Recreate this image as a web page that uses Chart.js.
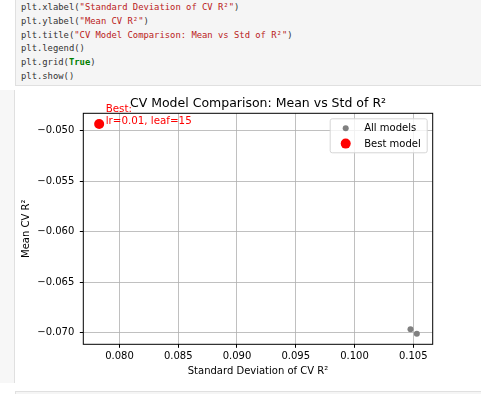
<!DOCTYPE html>
<html>
<head>
<meta charset="utf-8">
<script src="https://cdn.jsdelivr.net/npm/chart.js@4"></script>
<style>
body { margin:0; background:#fff; width:481px; height:394px; overflow:hidden; position:relative; }
.code { position:absolute; left:15px; top:-1px; width:465px; height:85px; background:#f5f5f5; border:1px solid #e0e0e0; border-right:none; }
.code pre { margin:0; padding:1px 0 0 5px; font-family:"DejaVu Sans Mono", monospace; font-size:8.85px; line-height:13.8px; color:#333; }
.s { color:#ba2121; }
.k { color:#008000; font-weight:bold; }
.strip { position:absolute; left:0; top:90px; width:14px; height:293px; background:#f7f7f7; border-right:1px solid #e0e0e0; }
.next { position:absolute; left:15px; top:391px; width:466px; height:10px; background:#f5f5f5; border-top:1px solid #e0e0e0; border-left:1px solid #e0e0e0; }
#chart { position:absolute; left:0; top:88px; }
</style>
</head>
<body>

<div class="code"><pre>plt.xlabel(<span class="s">"Standard Deviation of CV R²"</span>)
plt.ylabel(<span class="s">"Mean CV R²"</span>)
plt.title(<span class="s">"CV Model Comparison: Mean vs Std of R²"</span>)
plt.legend()
plt.grid(<span class="k">True</span>)
plt.show()</pre></div>

<div class="strip"></div>
<div class="next"></div>

<canvas id="chart" width="481" height="300"></canvas>

<script>

// data

const allStd = [0.07827, 0.10477, 0.10531];
const allMean = [-0.04934, -0.06966, -0.07010];

const bestStd = [0.07827];
const bestMean = [-0.04934];
const bestText = ["Best:", "lr=0.01, leaf=15"];

const xTicks = [0.080, 0.085, 0.090, 0.095, 0.100, 0.105];
const yTicks = [-0.070, -0.065, -0.060, -0.055, -0.050];

const titleText = "CV Model Comparison: Mean vs Std of R²";


const FONT = "DejaVu Sans";

function fmt(v){
  let s = Math.abs(v).toFixed(3);
  return v < 0 ? "\u2212" + s : s;
}

function toPoints(xs, ys){
  return xs.map((x, i) => ({x: x, y: ys[i]}));
}


// title, frame, annotation and legend box like matplotlib

const extras = {
  id: "extras",
  afterDraw(chart){
    const ctx = chart.ctx;
    const a = chart.chartArea;
    const xs = chart.scales.x, ys = chart.scales.y;

    ctx.save();

    // title centred over the axes
    ctx.fillStyle = "#000";
    ctx.font = "12.5px '" + FONT + "'";
    ctx.textAlign = "center";
    ctx.textBaseline = "alphabetic";
    ctx.fillText(titleText, (a.left + a.right) / 2, a.top - 6.5);

    ctx.strokeStyle = "#000";
    ctx.lineWidth = 1;
    ctx.strokeRect(a.left, a.top, a.right - a.left, a.bottom - a.top);

    // annotation next to best point
    let px = xs.getPixelForValue(bestStd[0]);
    let py = ys.getPixelForValue(bestMean[0]);
    ctx.fillStyle = "red";
    ctx.font = "10.3px '" + FONT + "'";
    ctx.textAlign = "left";
    ctx.fillText(bestText[0], px + 6.5, py - 12.5);
    ctx.fillText(bestText[1], px + 6.5, py - 0.5);

    // legend
    ctx.font = "10px '" + FONT + "'";
    const bw = 97, bh = 34;
    const bx = a.right - 5.5 - bw, by = a.top + 5.5;
    ctx.beginPath();
    ctx.roundRect(bx, by, bw, bh, 2);
    ctx.fillStyle = "rgba(255,255,255,0.8)";
    ctx.fill();
    ctx.strokeStyle = "#d5d5d5";
    ctx.lineWidth = 1;
    ctx.stroke();

    chart.data.datasets.forEach((ds, i) => {
      let cy = by + 9.5 + i * 15.3;
      ctx.beginPath();
      ctx.arc(bx + 15.5, cy, ds.pointRadius, 0, Math.PI * 2);
      ctx.fillStyle = ds.pointBackgroundColor;
      ctx.fill();
      ctx.fillStyle = "#000";
      ctx.textBaseline = "middle";
      ctx.fillText(ds.label, bx + 34, cy + 0.5);
    });

    ctx.restore();
  }
};


new Chart(document.getElementById("chart"), {

  type: "scatter",

  data: {
    datasets: [
      {
        label: "All models",
        data: toPoints(allStd, allMean),
        pointBackgroundColor: "#808080",
        pointBorderWidth: 0,
        pointRadius: 3,
        order: 2
      },
      {
        label: "Best model",
        data: toPoints(bestStd, bestMean),
        pointBackgroundColor: "#ff0000",
        pointBorderWidth: 0,
        pointRadius: 5,
        order: 1
      }
    ]
  },

  options: {
    responsive: false,
    animation: false,
    layout: {
      padding: {left: 0, right: 48.3, top: 25.3, bottom: 3.7}
    },
    plugins: {
      legend: {display: false},
      tooltip: {enabled: false}
    },
    scales: {
      x: {
        type: "linear",
        min: 0.07692,
        max: 0.10666,
        afterBuildTicks: (s) => { s.ticks = xTicks.map(v => ({value: v})); },
        afterFit: (s) => { s.height = 40; },
        ticks: {
          color: "#000",
          font: {family: FONT, size: 10},
          padding: 3,
          maxRotation: 0,
          callback: (v) => fmt(v)
        },
        grid: {color: "#b0b0b0", lineWidth: 0.8, tickColor: "#000", tickLength: 3.5, tickWidth: 1},
        border: {display: false},
        title: {
          display: true,
          text: "Standard Deviation of CV R²",
          color: "#000",
          font: {family: FONT, size: 10},
          padding: {top: 0, bottom: 7.3}
        }
      },
      y: {
        type: "linear",
        min: -0.07115,
        max: -0.04828,
        afterBuildTicks: (s) => { s.ticks = yTicks.map(v => ({value: v})); },
        afterFit: (s) => { s.width = 83.3; },
        ticks: {
          color: "#000",
          font: {family: FONT, size: 10},
          padding: 5.5,
          callback: (v) => fmt(v)
        },
        grid: {color: "#b0b0b0", lineWidth: 0.8, tickColor: "#000", tickLength: 3.5, tickWidth: 1},
        border: {display: false},
        title: {
          display: true,
          text: "Mean CV R²",
          color: "#000",
          font: {family: FONT, size: 10},
          padding: {top: 20.7, bottom: 0}
        }
      }
    }
  },

  plugins: [extras]

});

</script>
</body>
</html>
